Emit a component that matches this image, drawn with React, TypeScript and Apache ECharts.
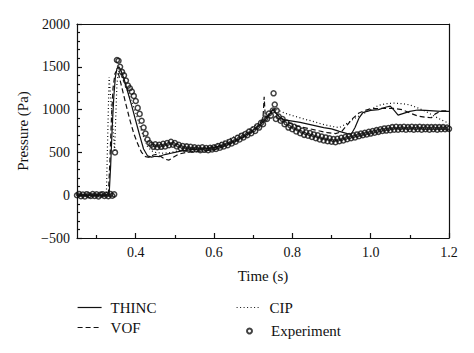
import React, { useEffect, useRef } from "react";
import * as echarts from "echarts";

// [time (s), pressure (Pa)]
const thinc: [number, number][] = [
  [0.25, 0], [0.3, 0], [0.332, 0], [0.336, 350], [0.34, 800], [0.344, 1150], [0.348, 1380], [0.352, 1480],
  [0.357, 1500], [0.362, 1460], [0.37, 1360], [0.38, 1200], [0.39, 1040], [0.4, 870], [0.41, 700], [0.42, 540],
  [0.43, 460], [0.44, 445], [0.45, 455], [0.46, 450], [0.47, 470], [0.48, 480], [0.49, 490], [0.5, 500],
  [0.52, 520], [0.54, 530], [0.56, 540], [0.58, 545], [0.6, 555], [0.62, 580], [0.64, 610], [0.66, 650],
  [0.68, 700], [0.7, 760], [0.72, 830], [0.73, 880], [0.74, 930], [0.75, 1000], [0.76, 950], [0.77, 900],
  [0.78, 880], [0.8, 865], [0.82, 850], [0.84, 830], [0.86, 810], [0.88, 790], [0.9, 775], [0.92, 745],
  [0.94, 720], [0.95, 710], [0.96, 790], [0.97, 900], [0.98, 965], [0.99, 980], [1.0, 990], [1.02, 1000],
  [1.04, 1030], [1.05, 1040], [1.06, 990], [1.07, 935], [1.08, 950], [1.1, 980], [1.12, 995], [1.14, 990],
  [1.16, 985], [1.18, 980], [1.2, 980],
];

const vof: [number, number][] = [
  [0.25, 0], [0.33, 0], [0.334, 400], [0.338, 900], [0.342, 1250], [0.347, 1420], [0.352, 1460], [0.357, 1400],
  [0.365, 1250], [0.375, 1060], [0.385, 880], [0.395, 720], [0.405, 600], [0.415, 500], [0.425, 450], [0.435, 440],
  [0.445, 470], [0.455, 480], [0.465, 450], [0.475, 420], [0.485, 410], [0.495, 440], [0.51, 480], [0.53, 500],
  [0.55, 510], [0.58, 520], [0.6, 530], [0.62, 560], [0.64, 600], [0.66, 640], [0.68, 690], [0.7, 750],
  [0.715, 820], [0.725, 900], [0.728, 1150], [0.731, 900], [0.74, 940], [0.75, 1000], [0.76, 950], [0.77, 900],
  [0.79, 850], [0.81, 810], [0.83, 790], [0.85, 770], [0.87, 750], [0.89, 730], [0.91, 720], [0.925, 740],
  [0.94, 820], [0.955, 900], [0.97, 960], [0.985, 990], [1.0, 1010], [1.03, 1015], [1.06, 1015], [1.08, 1000],
  [1.1, 960], [1.12, 925], [1.14, 910], [1.155, 905], [1.165, 950], [1.18, 985], [1.2, 985],
];

const cip: [number, number][] = [
  [0.25, 0], [0.325, 0], [0.328, 600], [0.332, 1380], [0.34, 900], [0.346, 520], [0.352, 1300], [0.356, 1450],
  [0.362, 1420], [0.37, 1330], [0.38, 1210], [0.39, 1090], [0.4, 960], [0.41, 820], [0.42, 680], [0.43, 570],
  [0.44, 520], [0.45, 500], [0.47, 490], [0.49, 500], [0.51, 520], [0.53, 540], [0.56, 550], [0.6, 580],
  [0.63, 640], [0.66, 700], [0.69, 770], [0.71, 830], [0.73, 900], [0.745, 970], [0.755, 1010], [0.765, 990],
  [0.78, 960], [0.8, 930], [0.83, 890], [0.855, 860], [0.875, 830], [0.9, 805], [0.92, 790], [0.94, 840],
  [0.96, 900], [0.98, 950], [1.0, 1000], [1.02, 1050], [1.04, 1070], [1.06, 1075], [1.08, 1070], [1.1, 1055],
  [1.12, 1020], [1.14, 980], [1.16, 930], [1.18, 880], [1.2, 840],
];

const experiment: [number, number][] = [
  [0.25, 0], [0.255, 15], [0.26, -12], [0.265, 8], [0.27, -15], [0.275, 12], [0.28, 0], [0.285, -10], [0.29, 14],
  [0.295, -8], [0.3, 10], [0.305, -14], [0.31, 6], [0.315, 12], [0.32, -10], [0.325, 8], [0.33, -12], [0.335, 15],
  [0.34, -6], [0.345, 10], [0.347, 500], [0.352, 1580], [0.356, 1570], [0.36, 1500], [0.365, 1440], [0.37, 1400],
  [0.375, 1340], [0.38, 1280], [0.385, 1250], [0.39, 1210], [0.395, 1160], [0.4, 1100], [0.405, 1020],
  [0.41, 950], [0.415, 870], [0.42, 790], [0.425, 720], [0.43, 650], [0.435, 610], [0.44, 590], [0.445, 565],
  [0.45, 595], [0.455, 560], [0.46, 590], [0.465, 565], [0.47, 600], [0.475, 570], [0.48, 610], [0.485, 585],
  [0.49, 625], [0.495, 590], [0.5, 610], [0.505, 570], [0.51, 590], [0.515, 550], [0.52, 575], [0.525, 540],
  [0.53, 570], [0.535, 535], [0.54, 565], [0.545, 530], [0.55, 560], [0.555, 535], [0.56, 555], [0.565, 525],
  [0.57, 560], [0.575, 530], [0.58, 550], [0.585, 525], [0.59, 555], [0.595, 535], [0.6, 560], [0.605, 540],
  [0.61, 575], [0.615, 555], [0.62, 590], [0.625, 570], [0.63, 605], [0.635, 585], [0.64, 625], [0.645, 605],
  [0.65, 645], [0.655, 625], [0.66, 670], [0.665, 650], [0.67, 695], [0.675, 675], [0.68, 715], [0.685, 700],
  [0.69, 745], [0.695, 725], [0.7, 770], [0.705, 750], [0.71, 805], [0.715, 790], [0.72, 845], [0.725, 830],
  [0.73, 895], [0.735, 890], [0.74, 955], [0.745, 930], [0.75, 990], [0.752, 1190], [0.755, 1060], [0.758, 890],
  [0.76, 990], [0.765, 920], [0.77, 870], [0.775, 890], [0.78, 830], [0.785, 850], [0.79, 790], [0.795, 815],
  [0.8, 770], [0.805, 800], [0.81, 745], [0.815, 780], [0.82, 725], [0.825, 755], [0.83, 705], [0.835, 735],
  [0.84, 695], [0.845, 725], [0.85, 680], [0.855, 710], [0.86, 665], [0.865, 700], [0.87, 650], [0.875, 685],
  [0.88, 640], [0.885, 675], [0.89, 630], [0.895, 665], [0.9, 625], [0.905, 655], [0.91, 620], [0.915, 660],
  [0.92, 630], [0.925, 670], [0.93, 640], [0.935, 680], [0.94, 655], [0.945, 690], [0.95, 665], [0.955, 700],
  [0.96, 675], [0.965, 710], [0.97, 690], [0.975, 720], [0.98, 700], [0.985, 730], [0.99, 710], [0.995, 740],
  [1.0, 720], [1.005, 750], [1.01, 730], [1.015, 760], [1.02, 740], [1.025, 770], [1.03, 750], [1.035, 780],
  [1.04, 755], [1.045, 785], [1.05, 760], [1.055, 795], [1.06, 765], [1.065, 800], [1.07, 765], [1.075, 795],
  [1.08, 770], [1.085, 800], [1.09, 765], [1.095, 795], [1.1, 770], [1.105, 800], [1.11, 765], [1.115, 795],
  [1.12, 770], [1.125, 800], [1.13, 765], [1.135, 795], [1.14, 770], [1.145, 795], [1.15, 765], [1.155, 795],
  [1.16, 770], [1.165, 795], [1.17, 765], [1.175, 795], [1.18, 770], [1.185, 795], [1.19, 770], [1.195, 790],
  [1.2, 775],
];

const xMajorTicks = [0.4, 0.6, 0.8, 1.0, 1.2];
const xMinorTicks = [0.3, 0.5, 0.7, 0.9, 1.1];

const FONT = "'Liberation Serif', 'Times New Roman', serif";
const INK = "#111";

export default function App() {
  const ref = useRef<HTMLDivElement>(null);
  useEffect(() => {
    if (!ref.current) return;
    const chart = echarts.init(ref.current, undefined, { renderer: "svg" });
    const axisLine = { show: true, onZero: false, lineStyle: { color: INK, width: 1.2 } };
    const legendText = { fontFamily: FONT, fontSize: 15, color: INK, padding: [0, 0, 0, 4] };
    chart.setOption({
      animation: false,
      backgroundColor: "#fff",
      textStyle: { fontFamily: FONT, color: INK },
      grid: { left: 77, top: 24, right: 25, bottom: 115 },
      legend: [
        {
          orient: "vertical", left: 77, top: 300, padding: 0, itemGap: 5,
          itemWidth: 24, itemHeight: 14, textStyle: legendText,
          itemStyle: { opacity: 0 }, lineStyle: { width: 1.2 },
          data: ["THINC", "VOF"],
        },
        {
          orient: "vertical", left: 236, top: 300, padding: 0,
          itemWidth: 24, itemHeight: 14, textStyle: legendText,
          itemStyle: { opacity: 0 }, lineStyle: { width: 1.2 },
          data: ["CIP"],
        },
        {
          orient: "vertical", left: 246, top: 323.5, padding: 0,
          itemWidth: 25, itemHeight: 5, textStyle: legendText,
          data: [{ name: "Experiment", icon: "circle" }],
        },
      ],
      xAxis: [
        {
          type: "value", min: 0.25, max: 1.2, position: "bottom",
          name: "Time (s)", nameLocation: "middle", nameGap: 30,
          nameTextStyle: { fontFamily: FONT, fontSize: 15, color: INK },
          axisLine,
          axisTick: { show: true, inside: true, length: 5, customValues: xMajorTicks, lineStyle: { color: INK, width: 1.2 } },
          axisLabel: {
            customValues: xMajorTicks, margin: 7, fontFamily: FONT, fontSize: 14, color: INK,
            formatter: (v: number) => v.toFixed(1),
          },
          splitLine: { show: false },
        },
        {
          type: "value", min: 0.25, max: 1.2, position: "bottom",
          axisLine: { show: false, onZero: false },
          axisTick: { show: true, inside: true, length: 3, customValues: xMinorTicks, lineStyle: { color: INK, width: 1.2 } },
          axisLabel: { show: false },
          splitLine: { show: false },
        },
        {
          type: "value", min: 0.25, max: 1.2, position: "top",
          axisLine: { show: true, onZero: false, lineStyle: { color: INK, width: 1.2 } },
          axisTick: { show: false }, axisLabel: { show: false }, splitLine: { show: false },
        },
      ],
      yAxis: [
        {
          type: "value", min: -500, max: 2000, interval: 500, position: "left",
          name: "Pressure (Pa)", nameLocation: "middle", nameGap: 44,
          nameTextStyle: { fontFamily: FONT, fontSize: 15, color: INK },
          axisLine,
          axisTick: { show: true, inside: true, length: 5, lineStyle: { color: INK, width: 1.2 } },
          minorTick: { show: true, splitNumber: 5, length: 3, lineStyle: { color: INK, width: 1.2 } },
          axisLabel: {
            margin: 7, fontFamily: FONT, fontSize: 14, color: INK,
            formatter: (v: number) => (v < 0 ? "\u2212" + Math.abs(v) : String(v)),
          },
          splitLine: { show: false },
        },
        {
          type: "value", min: -500, max: 2000, interval: 500, position: "right",
          axisLine: { show: true, onZero: false, lineStyle: { color: INK, width: 1.2 } },
          axisTick: { show: false }, axisLabel: { show: false }, splitLine: { show: false },
        },
      ],
      series: [
        {
          name: "THINC", type: "line", data: thinc, symbol: "none", xAxisIndex: 0, yAxisIndex: 0,
          lineStyle: { color: INK, width: 1.2, type: "solid" }, itemStyle: { color: INK },
        },
        {
          name: "VOF", type: "line", data: vof, symbol: "none", xAxisIndex: 0, yAxisIndex: 0,
          lineStyle: { color: INK, width: 1.2, type: [5, 3] }, itemStyle: { color: INK },
        },
        {
          name: "CIP", type: "line", data: cip, symbol: "none", xAxisIndex: 0, yAxisIndex: 0,
          lineStyle: { color: INK, width: 1.2, type: [1, 2.5] }, itemStyle: { color: INK },
        },
        {
          name: "Experiment", type: "scatter", data: experiment, xAxisIndex: 0, yAxisIndex: 0,
          symbol: "circle", symbolSize: 5,
          itemStyle: { color: "rgba(255,255,255,0)", borderColor: INK, borderWidth: 1.5 },
        },
      ],
    });
    return () => chart.dispose();
  }, []);
  return <div ref={ref} style={{ width: 474, height: 353, position: "absolute", left: 0, top: 0 }} />;
}
